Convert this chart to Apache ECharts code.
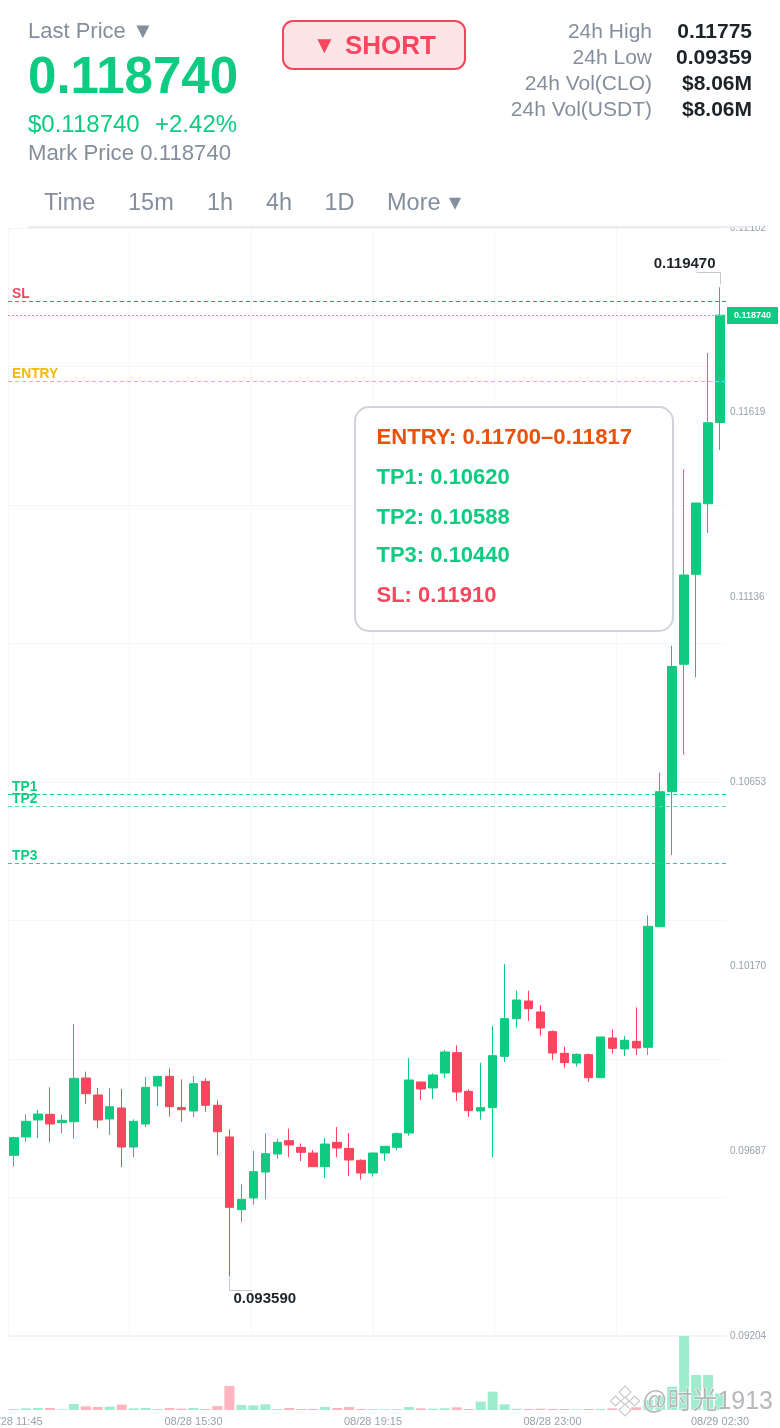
<!DOCTYPE html>
<html><head><meta charset="utf-8">
<style>html,body{margin:0;padding:0;background:#fff;overflow:hidden}#c{width:780px;height:1428px}</style>
<script src="https://cdn.jsdelivr.net/npm/echarts@6/dist/echarts.min.js"></script>
</head><body><div id="c"></div>
<script>
const times = ['08/28 11:45','08/28 12:00','08/28 12:15','08/28 12:30','08/28 12:45','08/28 13:00','08/28 13:15','08/28 13:30','08/28 13:45','08/28 14:00','08/28 14:15','08/28 14:30','08/28 14:45','08/28 15:00','08/28 15:15','08/28 15:30','08/28 15:45','08/28 16:00','08/28 16:15','08/28 16:30','08/28 16:45','08/28 17:00','08/28 17:15','08/28 17:30','08/28 17:45','08/28 18:00','08/28 18:15','08/28 18:30','08/28 18:45','08/28 19:00','08/28 19:15','08/28 19:30','08/28 19:45','08/28 20:00','08/28 20:15','08/28 20:30','08/28 20:45','08/28 21:00','08/28 21:15','08/28 21:30','08/28 21:45','08/28 22:00','08/28 22:15','08/28 22:30','08/28 22:45','08/28 23:00','08/28 23:15','08/28 23:30','08/28 23:45','08/29 00:00','08/29 00:15','08/29 00:30','08/29 00:45','08/29 01:00','08/29 01:15','08/29 01:30','08/29 01:45','08/29 02:00','08/29 02:15','08/29 02:30'];
const opens = [.096765,.097245,.097690,.097838,.097620,.097646,.098788,.098343,.097716,.098003,.096983,.097585,.098579,.098832,.098012,.097925,.098701,.098073,.097245,.095344,.095650,.096330,.096800,.097149,.096975,.096826,.096469,.097105,.096948,.096635,.096303,.096826,.096975,.097350,.098684,.098527,.098919,.099451,.098440,.097925,.098013,.099355,.100340,.100802,.100515,.100000,.099434,.099181,.099399,.098797,.099835,.099547,.099748,.099591,.102745,.106276,.109608,.111962,.113809,.115932];
const closes = [.097227,.097655,.097846,.097585,.097681,.098779,.098378,.097690,.098038,.096983,.097655,.098544,.098832,.098038,.097960,.098640,.098073,.097384,.095405,.095615,.096338,.096809,.097105,.097036,.096844,.096469,.097062,.096957,.096643,.096303,.096826,.097001,.097333,.098736,.098501,.098867,.099469,.098422,.097934,.098013,.099373,.100340,.100829,.100602,.100096,.099442,.099190,.099408,.098797,.099861,.099564,.099774,.099573,.102755,.106276,.109551,.111944,.113827,.115927,.118740];
const lows = [.096469,.097123,.097219,.097114,.097341,.097201,.098108,.097472,.097297,.096460,.096713,.097506,.098056,.097777,.097646,.097768,.097899,.096774,.093590,.095022,.095475,.095615,.096678,.096713,.096617,.096469,.096164,.096713,.096225,.096129,.096207,.096617,.096897,.097280,.098213,.098239,.098797,.098187,.097769,.097699,.096714,.099207,.100105,.100279,.099896,.099259,.099059,.099085,.098684,.098797,.099425,.099364,.099390,.099390,.102745,.104621,.107244,.109268,.113042,.115213];
const highs = [.097254,.097838,.097951,.098544,.097820,.100200,.098954,.098526,.098518,.098500,.097707,.098814,.098832,.099041,.098753,.098840,.098779,.098204,.097445,.096007,.096879,.097341,.097201,.097463,.097079,.096905,.097219,.097506,.097350,.096661,.096844,.097010,.097368,.099312,.098684,.098911,.099521,.099643,.098492,.099190,.100149,.101770,.101073,.101073,.100698,.100035,.099608,.099434,.099434,.099861,.100061,.099887,.100637,.103043,.106773,.110095,.114709,.113827,.117750,.119470];
const volumes = [3,5,6,6,2,18,11,9,10,16,5,6,3,6,4,6,3,12,72,15,14,17,3,6,3,3,9,6,9,3,3,2,3,9,5,4,5,8,3,25,55,17,4,3,4,3,3,2,3,3,5,5,8,30,42,70,222,105,105,50];
const priceLabelTicks = [.09204,.09687,.10170,.10653,.11136,.11619,.12102];
const priceGridTicks = [.09204,.0956625,.099285,.1029075,.10653,.1101525,.113775,.1173975,.12102];
const timeTickIndex = [0,15,30,45,59];
const levelNames = ['SL','ENTRY','TP1','TP2','TP3',''];
const levelValues = [.11910,.11700,.10620,.10588,.10440,.11874];
const levelColors = ['#f6465d','#f2bd3c','#27cf8d','#5bdcaa','#27cf8d','#5bdcaa'];
const levelLabelColors = ['#f6465d','#f0b90b','#0ecb81','#0ecb81','#0ecb81','#0ecb81'];
const lastPriceLabel = '0.118740';
const extremes = [[59,.11947,'0.119470'],[18,.09359,'0.093590']];

const GREEN='#0ecb81', RED='#f9465f', GRAY='#848e9c', DARK='#1e2329', AXIS='#9aa1ad';
const FONT="'Liberation Sans','Noto Sans CJK SC',sans-serif";
const T=(text,x,y,size,fill,o={})=>({type:'text',x,y:y+size*0.06,z:100,scaleX:o.scaleX||1,style:{text,fill,font:`${o.bold?'bold ':''}${size}px ${FONT}`,textAlign:o.align||'left',textVerticalAlign:'middle',stroke:o.stroke,lineWidth:o.lw||0}});
const D=(cx,cy,r)=>({type:'polygon',z:101,shape:{points:[[cx,cy-r],[cx+r,cy],[cx,cy+r],[cx-r,cy]]},style:{fill:'#fff',stroke:'#c9c9c9',lineWidth:1.1}});

const graphics=[
 {type:'rect',z:99,shape:{x:0,y:0,width:780,height:226},style:{fill:'#fff'}},
 {type:'rect',z:100,shape:{x:28,y:226,width:724,height:2},style:{fill:'#e9ebef'}},
 T('Last Price ▼',28,31,22,GRAY),
 T('0.118740',28,76,52,GREEN,{bold:true,scaleX:.982}),
 T('$0.118740',28,124,24,GREEN),
 T('+2.42%',155,124,24,GREEN),
 T('Mark Price 0.118740',28,153,22.2,GRAY),
 T('Time',44,202,23.5,GRAY),T('15m',128,202,23.5,GRAY),T('1h',207,202,23.5,GRAY),T('4h',266,202,23.5,GRAY),T('1D',324.5,202,23.5,GRAY),T('More',387,202,23.5,GRAY),T('▾',454.5,202,23.5,GRAY,{align:'center'}),
 {type:'rect',z:100,shape:{x:283,y:21,width:182,height:48,r:10},style:{fill:'#fde4e7',stroke:'#f6465d',lineWidth:2}},
 T('▼',324.5,45,24,'#f9465f',{align:'center',bold:true}),
 T('SHORT',345,45,26,'#f9465f',{bold:true}),
 T('24h High',652,31,21,GRAY,{align:'right'}),T('24h Low',652,57,21,GRAY,{align:'right'}),T('24h Vol(CLO)',652,83,21,GRAY,{align:'right'}),T('24h Vol(USDT)',652,109,21,GRAY,{align:'right'}),
 T('0.11775',752,31,21,DARK,{align:'right',bold:true}),T('0.09359',752,57,21,DARK,{align:'right',bold:true}),T('$8.06M',752,83,21,DARK,{align:'right',bold:true}),T('$8.06M',752,109,21,DARK,{align:'right',bold:true}),
 {type:'rect',z:100,shape:{x:355,y:407,width:318,height:224,r:14},style:{fill:'#fff',stroke:'#d0d4da',lineWidth:2}},
 T('ENTRY: 0.11700–0.11817',376.5,436.5,22.1,'#e8520a',{bold:true}),
 T('TP1: 0.10620',376.5,476.5,22,GREEN,{bold:true}),
 T('TP2: 0.10588',376.5,516.5,22,GREEN,{bold:true}),
 T('TP3: 0.10440',376.5,554.5,22,GREEN,{bold:true}),
 T('SL: 0.11910',376.5,594.5,22,RED,{bold:true}),
 D(625,1392,6),D(615.5,1401,5),D(634.5,1401,5),D(625,1401,4),D(625,1410,6),
 T('@时光1913',642,1401,25,'rgba(172,172,176,.85)',{stroke:'#fff',lw:1})
];

const chart=echarts.init(document.getElementById('c'),null,{renderer:'canvas'});
chart.setOption({
 animation:false,
 textStyle:{fontFamily:FONT},
 graphic:graphics,
 grid:[{left:8,right:54,top:228,height:1108,outerBoundsMode:'none'},{left:8,right:54,top:1336,height:74,outerBoundsMode:'none'}],
 xAxis:[
  {type:'category',gridIndex:0,data:times,boundaryGap:true,axisLine:{show:true,lineStyle:{color:'#f2f3f5',width:2}},axisTick:{show:false},axisLabel:{show:false},splitLine:{show:false}},
  {type:'category',gridIndex:1,data:times,boundaryGap:true,axisLine:{show:false},axisTick:{show:false},splitLine:{show:false},
   axisLabel:{color:AXIS,fontSize:11,margin:6,interval:(i)=>timeTickIndex.includes(i),formatter:v=>v}},
  {type:'value',gridIndex:0,position:'top',min:0,max:5.901,interval:1,axisLine:{show:false},axisTick:{show:false},axisLabel:{show:false},splitLine:{show:true,showMaxLine:false,lineStyle:{color:'#f5f6f8',width:1}}}
 ],
 yAxis:[
  {type:'value',gridIndex:0,position:'right',min:.09204,max:.12102,scale:true,axisLine:{show:false},
   axisTick:{show:false,customValues:priceGridTicks},
   axisLabel:{customValues:priceLabelTicks,color:AXIS,fontSize:10,margin:4,padding:[2,0,0,0],formatter:v=>v.toFixed(5)},
   splitLine:{show:true,lineStyle:{color:'#f5f6f8',width:1}}},
  {type:'value',gridIndex:1,min:0,max:222,show:false,splitLine:{show:false}}
 ],
 series:[
  {type:'candlestick',name:'price',xAxisIndex:0,yAxisIndex:0,barWidth:9,
   data:opens.map((o,i)=>[o,closes[i],lows[i],highs[i]]),
   itemStyle:{color:GREEN,color0:RED,borderColor:GREEN,borderColor0:RED,borderWidth:1}},
  {type:'bar',name:'volume',xAxisIndex:1,yAxisIndex:1,barWidth:10,
   data:volumes.map((v,i)=>({value:v,itemStyle:{color:closes[i]>=opens[i]?'#9fecce':'#ffb4be'}}))},
  {type:'custom',name:'levels',xAxisIndex:0,yAxisIndex:0,clip:false,z:9,
   data:levelValues.map((v,i)=>[0,v]),
   renderItem:(p,api)=>{
     const i=p.dataIndex, cs=p.coordSys, y=Math.floor(api.coord([0,api.value(1)])[1])+.5;
     const isLast=i===5;
     const kids=[{type:'line',shape:{x1:cs.x,y1:y,x2:cs.x+cs.width,y2:y},style:{stroke:levelColors[i],lineWidth:1,lineDash:isLast?[2,2]:[4,3]}}];
     if(isLast){
       kids.push({type:'rect',shape:{x:cs.x+cs.width+1,y:y-8.5,width:51,height:17},style:{fill:GREEN}});
       kids.push({type:'text',x:cs.x+cs.width+26.5,y:y+.5,style:{text:lastPriceLabel,fill:'#fff',font:`bold 9px ${FONT}`,textAlign:'center',textVerticalAlign:'middle'}});
     } else {
       kids.push({type:'text',x:cs.x+4,y:y-7,style:{text:levelNames[i],fill:levelLabelColors[i],font:`bold 13.8px ${FONT}`,textAlign:'left',textVerticalAlign:'middle'}});
     }
     return {type:'group',children:kids};
   }},
  {type:'custom',name:'extremes',xAxisIndex:0,yAxisIndex:0,clip:false,z:10,
   data:extremes.map(e=>[e[0],e[1]]),
   renderItem:(p,api)=>{
     const c=api.coord([api.value(0),api.value(1)]);
     const hi=p.dataIndex===0, x=Math.round(c[0])+.5, y=Math.round(c[1])+.5;
     const pts=hi?[[x,y-3],[x,y-15],[x-24,y-15]]:[[x,y+1],[x,y+13],[x+23,y+13]];
     return {type:'group',children:[
       {type:'polyline',shape:{points:pts},style:{stroke:'#c4c8ce',lineWidth:1,fill:null}},
       {type:'text',x:hi?x-5:x+4,y:hi?y-24:y+21,style:{text:extremes[p.dataIndex][2],fill:DARK,font:`bold 15px ${FONT}`,textAlign:hi?'right':'left',textVerticalAlign:'middle'}}
     ]};
   }}
 ]
});
</script></body></html>
